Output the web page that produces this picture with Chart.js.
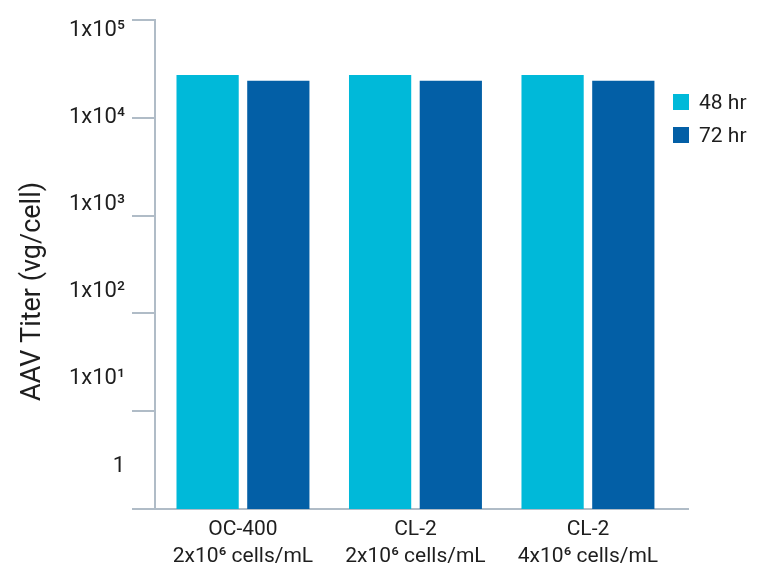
<!DOCTYPE html>
<html>
<head>
<meta charset="utf-8">
<script src="https://cdn.jsdelivr.net/npm/chart.js@4"></script>
<style>
  body { margin: 0; background: #fff; }
  #wrap { position: relative; width: 768px; height: 583px; }
  #legend { position: absolute; left: 673px; top: 93px; font: 21px Roboto, sans-serif; color: #1e1e1e; }
  #legend div { display: flex; align-items: center; height: 17px; margin-bottom: 16px; }
  #legend span { display: inline-block; width: 16px; height: 16px; margin-right: 10px; }
</style>
</head>
<body>
<div id="wrap">
  <canvas id="titerChart"></canvas>
  <div id="legend"></div>
</div>
<script>
const groups = [["OC-400", "2x10⁶ cells/mL"], ["CL-2", "2x10⁶ cells/mL"], ["CL-2", "4x10⁶ cells/mL"]];
const titer48 = [27500, 27500, 27500];
const titer72 = [24000, 24000, 24000];
const seriesNames = ["48 hr", "72 hr"];
const seriesColors = ["#00b9d9", "#035fa6"];
const yTickValues = [1, 10, 100, 1000, 10000, 100000];
const yTickLabels = ["1", "1x10¹", "1x10²", "1x10³", "1x10⁴", "1x10⁵"];

const axisGray = "#b0bcc7";
Chart.defaults.font.family = "Roboto";
Chart.defaults.color = "#1e1e1e";

const toPoints = (values) => values.map((y, x) => ({ x, y }));

const chart = new Chart(document.getElementById("titerChart"), {
  type: "bar",
  data: {
    datasets: [
      { label: seriesNames[0], data: toPoints(titer48), backgroundColor: seriesColors[0], yAxisID: "y" },
      { label: seriesNames[1], data: toPoints(titer72), backgroundColor: seriesColors[1], yAxisID: "y" },
    ],
  },
  options: {
    responsive: true,
    maintainAspectRatio: false,
    animation: false,
    categoryPercentage: 0.82,
    barPercentage: 0.88,
    layout: { padding: { top: 18, right: 80, bottom: 0, left: 0 } },
    plugins: { legend: { display: false }, tooltip: { enabled: false } },
    scales: {
      // log axis: only draws the decade tick marks and the axis line
      y: {
        type: "logarithmic",
        position: "left",
        weight: 0,
        min: 1,
        max: 100000,
        afterBuildTicks: (scale) => { scale.ticks = yTickValues.map((value) => ({ value })); },
        afterFit: (scale) => { scale.width = 23; },
        ticks: { display: false },
        grid: { drawOnChartArea: false, tickLength: 23, color: axisGray, lineWidth: 2 },
        border: { color: axisGray, width: 2 },
      },
      // the tick labels in the source sit evenly spaced, not on the marks
      yl: {
        type: "linear",
        axis: "y",
        position: "left",
        weight: 1,
        min: -0.491,
        max: 5.114,
        afterBuildTicks: (scale) => { scale.ticks = yTickLabels.map((_, value) => ({ value })); },
        afterFit: (scale) => { scale.width = 132; },
        ticks: { padding: 7, font: { size: 22 }, callback: (value, index) => yTickLabels[index] },
        grid: { display: false, drawTicks: false },
        border: { display: false },
        title: {
          display: true,
          text: "AAV Titer (vg/cell)".padEnd(27, " "),
          font: { size: 27 },
          padding: { top: 17, bottom: 0 },
        },
      },
      x: {
        type: "linear",
        offset: false,
        bounds: "data",
        min: -0.51,
        max: 2.58,
        afterBuildTicks: (scale) => { scale.ticks = groups.map((_, value) => ({ value })); },
        afterFit: (scale) => { scale.height = 74; },
        ticks: { padding: 7, maxRotation: 0, font: { size: 21, lineHeight: 1.28 }, callback: (value) => groups[value] },
        grid: { offset: false, drawOnChartArea: false, drawTicks: false },
        border: { color: axisGray, width: 2 },
      },
    },
  },
});

document.getElementById("legend").innerHTML = chart.data.datasets
  .map((ds) => `<div><span style="background:${ds.backgroundColor}"></span>${ds.label}</div>`)
  .join("");
</script>
</body>
</html>
